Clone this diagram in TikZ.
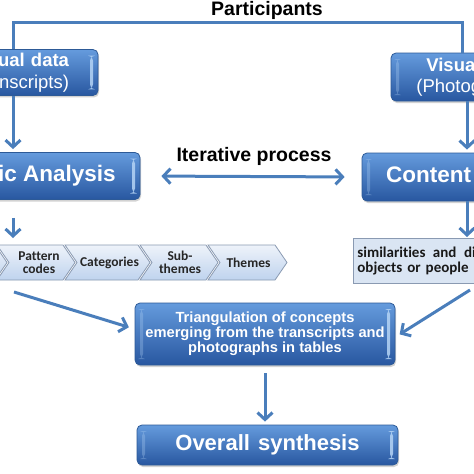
\documentclass[tikz,border=0pt]{standalone}
\usepackage{fontspec}
\setmainfont{Liberation Sans}
\newfontfamily\calfont[Ligatures=NoCommon]{Carlito}
\usetikzlibrary{arrows.meta,shadows}
\definecolor{conncol}{HTML}{4A7EBB}
\definecolor{boxtop}{HTML}{659BDD}
\definecolor{boxbot}{HTML}{2857A0}
\definecolor{boxline}{HTML}{2D5A97}
\definecolor{barcol}{HTML}{B5D4F5}
\definecolor{chevtop}{HTML}{EEF3FA}
\definecolor{chevbot}{HTML}{BFD3EE}
\definecolor{chevline}{HTML}{8A9AB2}
\definecolor{simfill}{HTML}{DAE5F3}
\newcommand\mychev[5]{%
  \draw[chevstyle] (#1,245) -- ({#2-12},245) -- (#2,262.5) -- ({#2-12},280) -- (#1,280) -- ({#1+12},262.5) -- cycle;
  \node[chevtext] (#4) at ({(#1+#2)/2+#5},262.5) {#3};}
\begin{document}
\begin{tikzpicture}[x=1pt,y=-1pt,
  connector/.style={draw=conncol, line width=3pt},
  arr/.style={connector, -{Straight Barb[length=7pt,width=15pt]}},
  darr/.style={connector, {Straight Barb[length=7pt,width=15pt]}-{Straight Barb[length=7pt,width=15pt]}},
  bluebox/.style={rectangle, rounded corners=5pt, draw=boxline, line width=0.8pt,
    top color=boxtop, bottom color=boxbot, text=white,
    drop shadow={shadow xshift=1pt, shadow yshift=-2pt, opacity=0.35},
    path picture={
      \fill[barcol, opacity=0.3] ([xshift=5pt,yshift=6pt]path picture bounding box.south west) rectangle ([xshift=8pt,yshift=-6pt]path picture bounding box.north west);
      \fill[barcol, opacity=0.85] ([xshift=-8pt,yshift=6pt]path picture bounding box.south east) rectangle ([xshift=-5pt,yshift=-6pt]path picture bounding box.north east);
    }},
  chevstyle/.style={draw=chevline, line width=0.8pt, top color=chevtop, bottom color=chevbot},
  chevtext/.style={font=\calfont\bfseries\fontsize{13.5}{13.5}\selectfont, text=black!85, align=center, inner sep=0pt},
  plainlabel/.style={font=\bfseries\fontsize{19.5}{22}\selectfont, text=black, inner sep=0pt}
]
\useasboundingbox (0,0) rectangle (474,474);
\fill[white] (0,0) rectangle (474,474);
\clip (0,0) rectangle (474,474);

% top label
\node[plainlabel, anchor=base] (part) at (267,15.5) {Participants};

% data boxes
\node[bluebox, minimum width=201pt, minimum height=45pt, text width=143pt, align=right,
      font=\fontsize{18.5}{22}\selectfont] (tl) at (-2.5,72.5)
      {\bfseries Textual data\\\mdseries(Transcripts)};
\node[bluebox, minimum width=168pt, minimum height=48pt, align=center,
      font=\fontsize{18.5}{21}\selectfont] (tr) at (475,77)
      {\bfseries Visual data\\\mdseries(Photographs)};

% analysis boxes
\node[bluebox, minimum width=246pt, minimum height=47pt,
      font=\bfseries\fontsize{22.5}{24}\selectfont] (th) at (17,176) {Thematic Analysis};
\node[bluebox, minimum width=232pt, minimum height=48pt,
      font=\bfseries\fontsize{22.5}{24}\selectfont] (ct) at (478,177) {Content Analysis};

% iterative label
\node[plainlabel, anchor=base] (iter) at (254,161.5) {Iterative process};

% chevrons
\mychev{-60}{7}{}{c1}{0}
\mychev{-3}{75}{Pattern\\codes}{c2}{3}
\mychev{65}{150}{Categories}{c3}{2}
\mychev{140}{218}{Sub-\\themes}{c4}{1}
\mychev{208}{287}{Themes}{c5}{1}

% similarities box
\node[rectangle, draw=chevline, line width=0.8pt, fill=simfill, anchor=north west,
      text width=240pt, inner xsep=4pt, minimum height=45pt, align=left,
      font=\calfont\bfseries\fontsize{15}{15}\selectfont, text=black!90] (sim) at (353,238)
      {similarities\hspace{2.5pt} and\hspace{2.5pt} differences of\\objects or people in photographs};

% triangulation and synthesis
\node[bluebox, minimum width=260pt, minimum height=62pt, align=center,
      font=\bfseries\fontsize{14.7}{15}\selectfont] (tri) at (265,334)
      {Triangulation of concepts\\emerging from the transcripts and\\photographs in tables};
\node[bluebox, minimum width=261pt, minimum height=40pt,
      font=\bfseries\fontsize{22}{24}\selectfont] (ov) at (267.5,445) {Overall\hspace{2pt} synthesis};

% coordinates
\coordinate (pl) at (13,22);
\coordinate (pr) at (462,22);
\coordinate (prb) at (467,0);
\coordinate (rowl) at (13,245);
\coordinate (dlt) at (14,292);
\coordinate (drt) at (470,290);

% connectors
\draw[connector] (tl.north -| pl) |- (pr) -- (tr.north -| pr);
\draw[arr, shorten >=3pt] (tl.south -| pl) -- (th.north -| pl);
\draw[arr, shorten >=3pt] (tr.south -| prb) -- (ct.north -| prb);
\draw[darr, shorten <=21pt, shorten >=17pt] (th.east) -- (ct.west);
\draw[arr, shorten <=18pt, shorten >=7pt] (th.south -| pl) -- (rowl);
\draw[arr, shorten >=1pt] (ct.south -| prb) -- (sim.north -| prb);
\draw[arr, shorten >=6pt] (dlt) -- ([yshift=5pt]tri.west);
\draw[arr, shorten >=5pt] (drt) -- ([yshift=-3pt]tri.east);
\draw[arr, shorten <=8pt, shorten >=3pt] (tri.south) -- (tri.south |- ov.north);
\end{tikzpicture}
\end{document}
